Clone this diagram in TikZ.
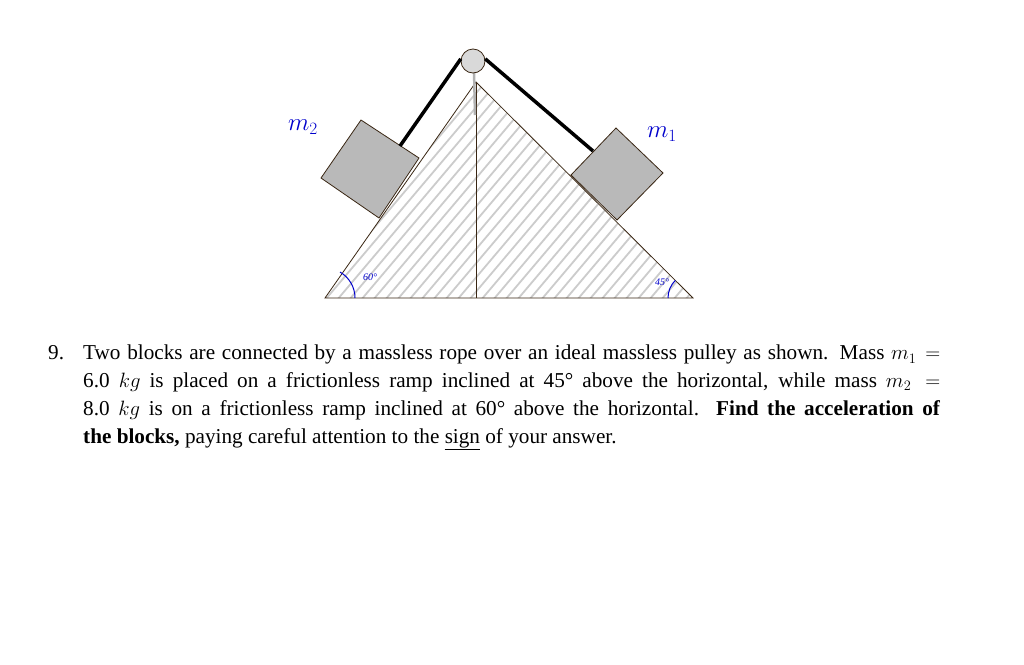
\documentclass[tikz,border=0pt]{standalone}
\usepackage{fontspec}
\setmainfont{Liberation Serif}
\begin{document}
\begin{tikzpicture}[x=1pt,y=-1pt,
  block/.style={draw=black!70!brown,fill=gray!55,line width=0.8pt},
  rope/.style={line width=3.5pt,black},
  lbl/.style={text=blue!80!black,font=\fontsize{25}{25}\selectfont},
  ang/.style={blue!80!black,line width=1pt},
  angl/.style={text=blue!80!black,font=\itshape\fontsize{10}{10}\selectfont},
  txt/.style={anchor=north west,inner sep=0pt,font=\fontsize{21.2}{27.7}\selectfont}]
\useasboundingbox (0,0) rectangle (1024,664);
\coordinate (A) at (476,82);
\coordinate (L) at (325,298);
\coordinate (R) at (693,298);
\coordinate (B) at (476,298);
\fill[white] (A)--(L)--(R)--cycle;
\begin{scope}
\clip (A)--(L)--(R)--cycle;
\foreach \i in {-300,-288,...,400}
  \draw[gray!40,line width=1.8pt] (325+\i,300) -- (325+\i+220,40);
\end{scope}
\draw[black!70!brown,line width=0.8pt] (A)--(L)--(R)--cycle;
\draw[black!70!brown,line width=0.8pt] (A)--(B);
\draw[gray!60,line width=2.5pt] (474,70) -- (475,115);
\node[circle,draw=black!70!brown,fill=gray!30,minimum size=24pt,inner sep=0pt,line width=0.8pt] (P) at (473,61) {};
\draw[block] (361,120)--(419,158)--(379,218)--(321,178)--cycle;
\draw[block] (616,128)--(663,173)--(617,220)--(571,175)--cycle;
\coordinate (r2) at (400,146);
\coordinate (r1) at (593,151);
\draw[rope] (P.170) -- (r2);
\draw[rope] (P.10) -- (r1);
\node[lbl] (lm2) at (303,127) {$m_2$};
\node[lbl] (lm1) at (662,134) {$m_1$};
\draw[ang] (355,298) arc[start angle=0,end angle=-60,radius=30];
\draw[ang] (668,298) arc[start angle=180,end angle=225,radius=25];
\node[angl] (a60) at (370,277) {60°};
\node[angl] (a45) at (662,282) {45°};
\node[txt] (n9) at (48,345) {9.};
\node[txt,text width=857pt,align=justify] (T) at (83,345) {Two blocks are connected by a massless rope over an ideal massless pulley as shown. Mass $m_1=$\linebreak 6.0 $kg$ is placed on a frictionless ramp inclined at 45° above the horizontal, while mass $m_2=$\linebreak 8.0 $kg$ is on a frictionless ramp inclined at 60° above the horizontal. \textbf{Find the acceleration of}\linebreak \textbf{the blocks,} paying careful attention to the \underline{sign} of your answer.};
\end{tikzpicture}
\end{document}
